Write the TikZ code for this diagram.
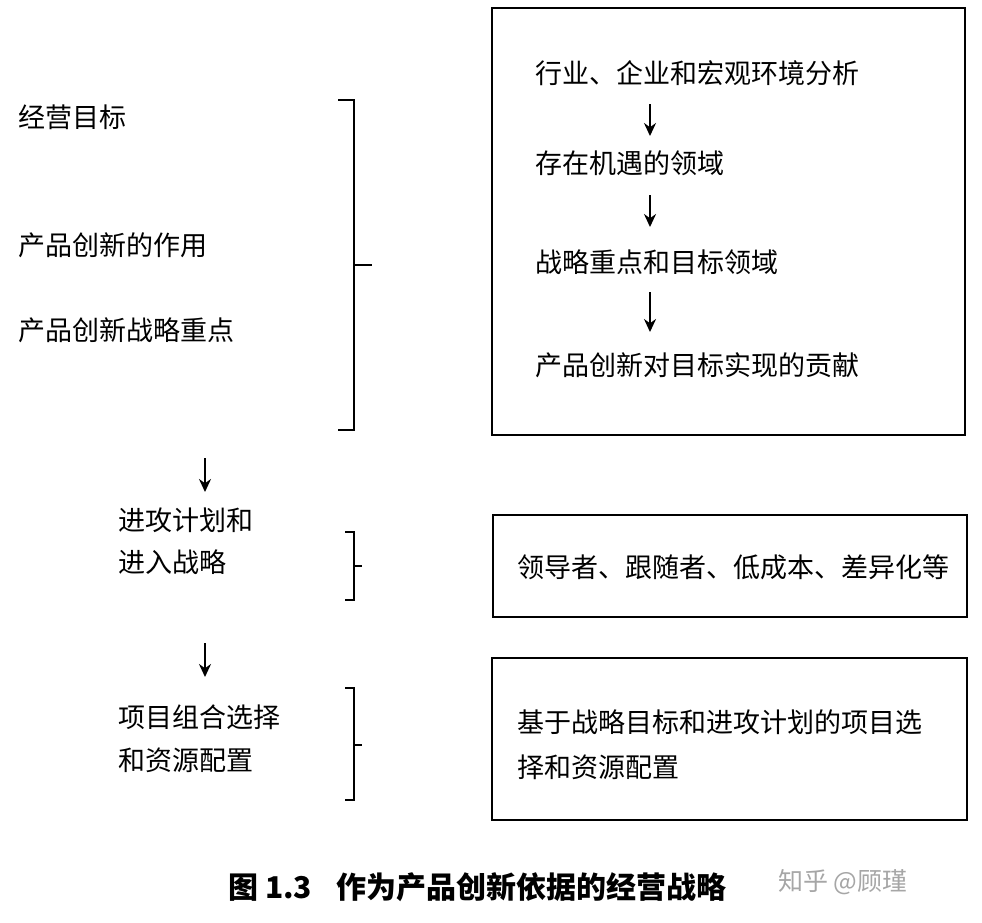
\documentclass[tikz,border=0pt]{standalone}
\usepackage{fontspec}
\setmainfont{Noto Sans CJK SC}
\usetikzlibrary{arrows.meta}
\begin{document}
\begin{tikzpicture}[x=1pt,y=-1pt,
  txt/.style={anchor=west,inner sep=0pt,font=\fontsize{27}{32}\selectfont},
  box/.style={draw,line width=1.8pt},
  arr/.style={-{Stealth[length=13pt,width=12pt]},line width=2pt},
  brk/.style={line width=1.8pt}]
\useasboundingbox (0,0) rectangle (982,922);
\draw[box] (492,8) rectangle (965,435);
\node[txt] (t1) at (535,73) {行业、企业和宏观环境分析};
\node[txt] (t2) at (535,163) {存在机遇的领域};
\node[txt] (t3) at (535,262) {战略重点和目标领域};
\node[txt] (t4) at (535,365) {产品创新对目标实现的贡献};
\coordinate (a1) at (650,104); \coordinate (b1) at (650,136);
\coordinate (a2) at (650,195); \coordinate (b2) at (650,227);
\coordinate (a3) at (650,292); \coordinate (b3) at (650,332);
\draw[arr] (a1) -- (b1); \draw[arr] (a2) -- (b2); \draw[arr] (a3) -- (b3);
\node[txt] (l1) at (18,117) {经营目标};
\node[txt] (l2) at (18,245) {产品创新的作用};
\node[txt] (l3) at (18,330) {产品创新战略重点};
\draw[brk] (338,100) -- (354,100) -- (354,430) -- (338,430);
\draw[brk] (354,265) -- (372,265);
\coordinate (a4) at (205,458); \coordinate (b4) at (205,492);
\draw[arr] (a4) -- (b4);
\node[txt] (m1) at (118,520) {进攻计划和};
\node[txt] (m2) at (118,562) {进入战略};
\draw[brk] (345,532) -- (354,532) -- (354,600) -- (345,600);
\draw[brk] (354,566) -- (362,566);
\draw[box] (493,515) rectangle (967,617);
\node[txt] (r1) at (517,567) {领导者、跟随者、低成本、差异化等};
\coordinate (a5) at (205,643); \coordinate (b5) at (205,677);
\draw[arr] (a5) -- (b5);
\node[txt] (n1) at (118,717) {项目组合选择};
\node[txt] (n2) at (118,760) {和资源配置};
\draw[brk] (345,688) -- (354,688) -- (354,800) -- (345,800);
\draw[brk] (354,745) -- (362,745);
\draw[box] (492,658) rectangle (967,820);
\node[txt] (s1) at (517,722) {基于战略目标和进攻计划的项目选};
\node[txt] (s2) at (517,767) {择和资源配置};
\node[anchor=west,inner sep=0pt,font=\fontsize{30}{36}\selectfont\bfseries] (cap) at (228,887) {图 1.3\hspace{0.8em}作为产品创新依据的经营战略};
\node[anchor=west,inner sep=0pt,text=gray!70,font=\fontsize{25}{30}\selectfont] (wm) at (778,882) {知乎 @顾瑾};
\end{tikzpicture}
\end{document}
